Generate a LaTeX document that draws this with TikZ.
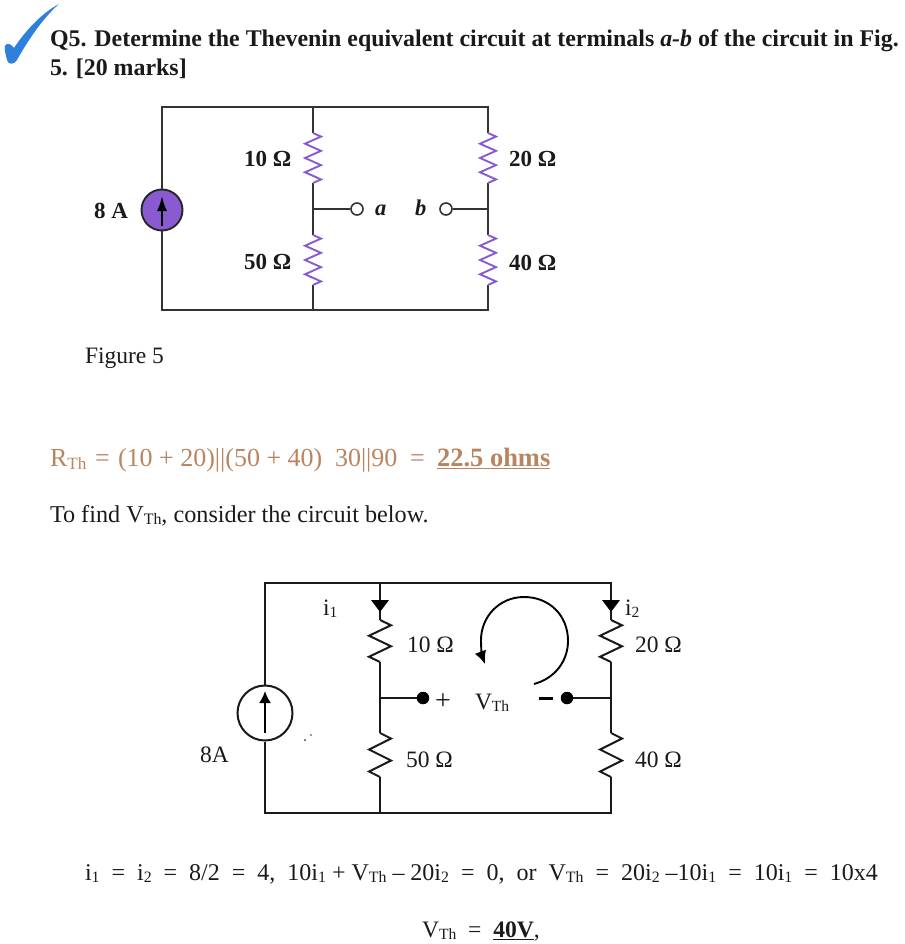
\documentclass[tikz,border=0pt]{standalone}
\usepackage{fontspec}
\setmainfont{Liberation Serif}
\usetikzlibrary{arrows.meta}
\definecolor{inkc}{HTML}{1A1A1A}
\definecolor{wirec}{HTML}{333333}
\definecolor{purplec}{HTML}{8A5BD0}
\definecolor{brownc}{HTML}{B98560}
\definecolor{bluec}{HTML}{2F7FDC}
\newcommand{\sbs}[1]{\raisebox{-0.12em}{\scalebox{0.66}{#1}}}
\newcommand{\zzfour}[2]{-- ++(#1,#2) -- ++(-2*#1,2*#2) -- ++(2*#1,2*#2) -- ++(-2*#1,2*#2) -- ++(2*#1,2*#2) -- ++(-2*#1,2*#2) -- ++(2*#1,2*#2) -- ++(-#1,#2)}
\newcommand{\zztwo}[2]{-- ++(#1,#2) -- ++(-2*#1,2*#2) -- ++(2*#1,2*#2) -- ++(-2*#1,2*#2) -- ++(#1,#2)}
\tikzset{
  x=1pt,y=-1pt,
  txt/.style={anchor=base west,inner sep=0pt,outer sep=0pt,text=inkc},
  head/.style={txt,font=\bfseries\fontsize{23.9}{26}\selectfont},
  lab/.style={txt,font=\bfseries\fontsize{23}{24}\selectfont},
  plain/.style={txt,font=\fontsize{23.5}{26}\selectfont},
  rthtxt/.style={txt,text=brownc,font=\fontsize{26}{28}\selectfont},
  wireA/.style={draw=wirec,line width=1.9pt},
  wireB/.style={draw=black!90,line width=2.1pt},
  zigA/.style={draw=purplec,line width=1.9pt},
  zigB/.style={draw=black!90,line width=2pt},
  termA/.style={circle,draw=wirec,fill=white,line width=1.6pt,minimum size=12pt,inner sep=0pt},
  termB/.style={circle,fill=black,minimum size=12.5pt,inner sep=0pt},
  srcA/.style={circle,draw=black!85,fill=purplec,line width=1.9pt,minimum size=41pt,inner sep=0pt},
  srcB/.style={circle,draw=black!90,fill=white,line width=2pt,minimum size=55pt,inner sep=0pt},
  arrA/.style={draw=black,line width=2pt,-{Latex[length=15pt,width=10pt]}},
  arrB/.style={draw=black,line width=2pt,-{Latex[length=12pt,width=12pt]}},
}
\begin{document}
\begin{tikzpicture}
\useasboundingbox (0,0) rectangle (904,944);
% check mark
\fill[bluec] (59,4) .. controls (42,19) and (27,42) .. (17,60) .. controls (14,65) and (8,65) .. (7,60) .. controls (6,55) and (4,50) .. (5,46) .. controls (7,42) and (11,44) .. (14,48) .. controls (26,30) and (42,13) .. (59,4) -- cycle;
% heading
\node[head] (h1) at (50,47) {Q5. Determine the Thevenin equivalent circuit at terminals \textit{a-b} of the circuit in Fig.};
\node[head] (h2) at (50,76) {5. [20 marks]};
% ---- upper circuit
\coordinate (tl) at (162,107); \coordinate (tm) at (313,107); \coordinate (tr) at (488,107);
\coordinate (bl) at (162,310); \coordinate (bm) at (313,310); \coordinate (br) at (488,310);
\coordinate (mm) at (313,209); \coordinate (mr) at (488,209);
\node[srcA] (S1) at (162,210) {};
\node[termA] (ta) at (357,209) {};
\node[termA] (tb) at (446,209) {};
\draw[wireA] (S1.north) -- (tl) -- (tr) -- (488,133);
\draw[wireA] (S1.south) -- (bl) -- (br) -- (488,285);
\draw[wireA] (tm) -- (313,133);
\draw[wireA] (313,183) -- (mm) -- (313,235);
\draw[wireA] (313,285) -- (bm);
\draw[wireA] (488,183) -- (mr) -- (488,235);
\draw[wireA] (mm) -- (ta);
\draw[wireA] (mr) -- (tb);
\draw[zigA] (313,133) \zzfour{8}{3.57};
\draw[zigA] (488,133) \zzfour{8}{3.57};
\draw[zigA] (313,235) \zzfour{8}{3.57};
\draw[zigA] (488,235) \zzfour{8}{3.57};
\coordinate (A1a) at (162,226); \coordinate (A1b) at (162,196);
\draw[arrA] (A1a) -- (A1b);
\node[lab] (l8a) at (94,218) {8 A};
\node[lab] (l10a) at (244,167) {10 Ω};
\node[lab] (l20a) at (509,167) {20 Ω};
\node[lab] (l50a) at (244,269) {50 Ω};
\node[lab] (l40a) at (509,270) {40 Ω};
\node[lab,font=\bfseries\itshape\fontsize{22.5}{24}\selectfont] (la) at (375,215) {a};
\node[lab,font=\bfseries\itshape\fontsize{22.5}{24}\selectfont] (lb) at (415,215) {b};
\node[plain] (fig) at (85,363) {Figure 5};
% ---- text lines
\node[rthtxt] (rth) at (50,466) {R\sbs{Th}};
\node[rthtxt] (rq1) at (95,466) {=};
\node[rthtxt] (rex) at (118,466) {(10 + 20)||(50 + 40)};
\node[rthtxt] (rpar) at (335,466) {30||90};
\node[rthtxt] (rq2) at (410,466) {=};
\node[txt,text=brownc,font=\bfseries\fontsize{26.5}{28}\selectfont] (rv) at (437,466) {\underline{22.5 ohms}};
\node[txt,font=\fontsize{24.2}{26}\selectfont] (find) at (50,522) {To find V\sbs{Th}, consider the circuit below.};
% ---- lower circuit
\coordinate (Tl) at (265,583); \coordinate (Tm) at (380,583); \coordinate (Tr) at (611,583);
\coordinate (Bl) at (265,813); \coordinate (Bm) at (380,813); \coordinate (Br) at (611,813);
\coordinate (Mm) at (380,698); \coordinate (Mr) at (611,698);
\node[srcB] (S2) at (265,713) {};
\node[termB] (tp) at (423,698) {};
\node[termB] (tn) at (567,698) {};
\draw[wireB] (S2.north) -- (Tl) -- (Tr) -- (611,620);
\draw[wireB] (S2.south) -- (Bl) -- (Br) -- (611,777);
\draw[wireB] (Tm) -- (380,620);
\draw[wireB] (380,662) -- (Mm) -- (380,733);
\draw[wireB] (380,777) -- (Bm);
\draw[wireB] (611,662) -- (Mr) -- (611,733);
\draw[wireB] (Mm) -- (tp);
\draw[wireB] (Mr) -- (tn);
\draw[zigB] (380,620) \zztwo{11}{5.25};
\draw[zigB] (611,620) \zztwo{11}{5.25};
\draw[zigB] (380,733) \zztwo{11}{5.5};
\draw[zigB] (611,733) \zztwo{11}{5.5};
\fill[black] (380,612) -- (371,600) -- (389,600) -- cycle;
\fill[black] (611,612) -- (602,600) -- (620,600) -- cycle;
\coordinate (A2a) at (265,733); \coordinate (A2b) at (265,691);
\draw[arrB] (A2a) -- (A2b);
\coordinate (Lstart) at (534,684);
\draw[draw=black,line width=1.9pt,-{Latex[length=13pt,width=12pt]}] (Lstart) .. controls (556,678) and (568,660) .. (568,641) .. controls (568,615) and (549,597) .. (524,597) .. controls (499,597) and (481,617) .. (481,640) .. controls (481,648) and (482,656) .. (485,664);
\node[plain] (i1) at (323,615) {i\sbs{1}};
\node[plain] (i2) at (625,615) {i\sbs{2}};
\node[plain] (o10) at (407,652) {10 Ω};
\node[plain] (o20) at (635,652) {20 Ω};
\node[plain] (o50) at (406,767) {50 Ω};
\node[plain] (o40) at (635,767) {40 Ω};
\node[plain] (l8) at (200,762) {8A};
\node[plain,font=\fontsize{28}{28}\selectfont] (pl) at (435,709) {+};
\node[plain] (vt) at (475,709) {V\sbs{Th}};
\fill[black] (539,696.5) rectangle (553,700);
\fill[black!80] (305,740) circle (1pt) (311,735) circle (0.8pt);
% ---- equations
\node[plain,font=\fontsize{24}{26}\selectfont] (eq) at (85,880) {i\sbs{1}\ \ =\ \ i\sbs{2}\ \ =\ \ 8/2\ \ =\ \ 4,\ \ 10i\sbs{1} + V\sbs{Th} – 20i\sbs{2}\ \ =\ \ 0,\ \ or\ \ V\sbs{Th}\ \ =\ \ 20i\sbs{2} –10i\sbs{1}\ \ =\ \ 10i\sbs{1}\ \ =\ \ 10x4};
\node[plain,font=\fontsize{23.6}{26}\selectfont] (eq2) at (422,937) {V\sbs{Th}\ \ =\ \ \textbf{\underline{40V}},};
\end{tikzpicture}
\end{document}
